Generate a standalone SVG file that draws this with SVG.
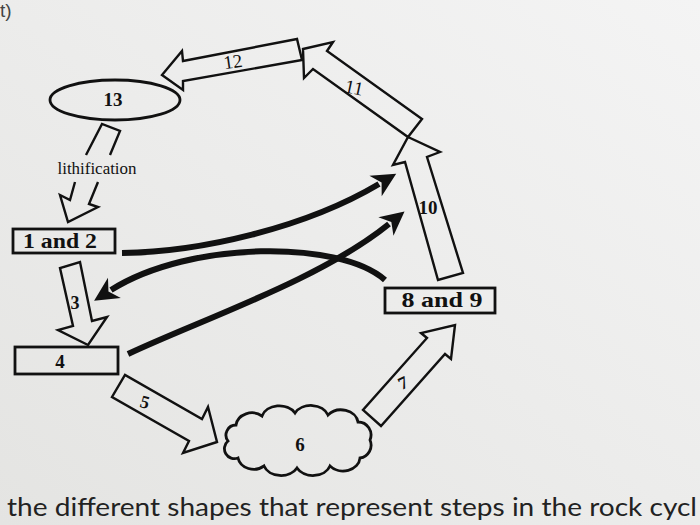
<svg xmlns="http://www.w3.org/2000/svg" width="700" height="525" viewBox="0 0 700 525">
<defs>
<linearGradient id="bg" x1="0" y1="1" x2="1" y2="0">
<stop offset="0" stop-color="#e4e4e2"/>
<stop offset="0.5" stop-color="#ececeb"/>
<stop offset="1" stop-color="#f4f4f4"/>
</linearGradient>
<marker id="head" markerUnits="userSpaceOnUse" viewBox="-6 -14 28 28" markerWidth="28" markerHeight="28" refX="0" refY="0" orient="auto">
<path d="M20,0 L-4,-12 L3,0 L-4,12 Z" fill="#111"/>
</marker>
<style>
.blk{fill:none;stroke:#111;stroke-width:2.4;stroke-linejoin:miter}
.box{fill:none;stroke:#111;stroke-width:2.8}
.curve{fill:none;stroke:#111;stroke-width:6;stroke-linecap:butt}
.lbl{fill:#111;text-anchor:middle}
.b{font-weight:bold}
</style>
</defs>
<rect width="700" height="525" fill="url(#bg)"/>
<text x="0" y="17" font-family="Liberation Sans, sans-serif" font-size="19" fill="#444">t)</text>

<g id="connectors" font-family="Liberation Serif, serif">
<g id="arrow12"><polygon class="blk" points="297,39 183,61 182,51 162,75 183,90 183,81 302,60"/><text class="lbl" x="233" y="68" font-size="19" transform="rotate(-8 233 62)">12</text></g>
<g id="arrow11"><polygon class="blk" points="303,49 333,42 327,51 422,119 408,137 313,69 304,78"/><text class="lbl" x="354" y="94" font-size="19" transform="rotate(12 354 88)">11</text></g>
<g id="arrow10"><polygon class="blk" points="408,137 440,152 427,157 463,273 438,280 405,162 393,165"/><text class="lbl b" x="428" y="214" font-size="19">10</text></g>
<g id="arrow7"><polygon class="blk" points="455,325 451,359 445,354 381,426 363,410 427,338 421,333"/><text class="lbl b" x="403" y="389" font-size="18" transform="rotate(-25 403 383)">7</text></g>
<g id="arrow5"><polygon class="blk" points="217,442 183,453 189,441 112,397 125,375 202,419 208,407"/><text class="lbl b" x="145" y="408" font-size="18" transform="rotate(15 145 402)">5</text></g>
<g id="arrow3"><polygon class="blk" points="88,345 58,330 73,326 60,268 80,262 92,321 107,317"/><text class="lbl b" x="75" y="309" font-size="18">3</text></g>
<g id="lithification">
<polyline class="blk" points="86,155 102,124 120,131 110,155"/>
<polyline class="blk" points="75,182 70,200 60,195 68,222 98,207 89,204 98,182"/>
<text class="lbl" x="97" y="174" font-size="16" textLength="79" lengthAdjust="spacingAndGlyphs">lithification</text>
</g>
<path class="curve" d="M122,253 C200,252 305,228 379,184" marker-end="url(#head)"/>
<path class="curve" d="M128,354 C200,320 320,280 389,224" marker-end="url(#head)"/>
<path class="curve" d="M385,280 C340,240 190,240 111,290" marker-end="url(#head)"/>
</g>

<g font-family="Liberation Serif, serif">
<g id="node13"><ellipse class="box" cx="115" cy="100" rx="65" ry="20"/><text class="lbl b" x="113" y="106" font-size="19">13</text></g>
<g id="node1and2"><rect class="box" x="13" y="229" width="102" height="24"/><text class="lbl b" x="60" y="248" font-size="22" textLength="74" lengthAdjust="spacingAndGlyphs">1 and 2</text></g>
<g id="node4"><rect class="box" x="15" y="347" width="103" height="27"/><text class="lbl b" x="60" y="368" font-size="19">4</text></g>
<g id="node8and9"><rect class="box" x="385" y="288" width="110" height="25"/><text class="lbl b" x="442" y="307" font-size="22" textLength="81" lengthAdjust="spacingAndGlyphs">8 and 9</text></g>
<g id="node6">
<path class="box" d="M236,425 A16,14 0 0 1 262,416 A18,14 0 0 1 295,413 A18,14 0 0 1 328,415 A17,14 0 0 1 358,422 A13,13 0 0 1 370,440 A13,13 0 0 1 360,458 A17,14 0 0 1 330,466 A18,14 0 0 1 297,468 A18,14 0 0 1 264,466 A16,14 0 0 1 238,458 A10,10 0 0 1 228,441 A10,10 0 0 1 236,425 Z"/>
<text class="lbl b" x="300" y="451" font-size="19">6</text>
</g>
</g>

<text x="7" y="516" font-family="Lato, Liberation Sans, sans-serif" font-size="25" fill="#222" textLength="690" lengthAdjust="spacingAndGlyphs">the different shapes that represent steps in the rock cycl</text>
</svg>
